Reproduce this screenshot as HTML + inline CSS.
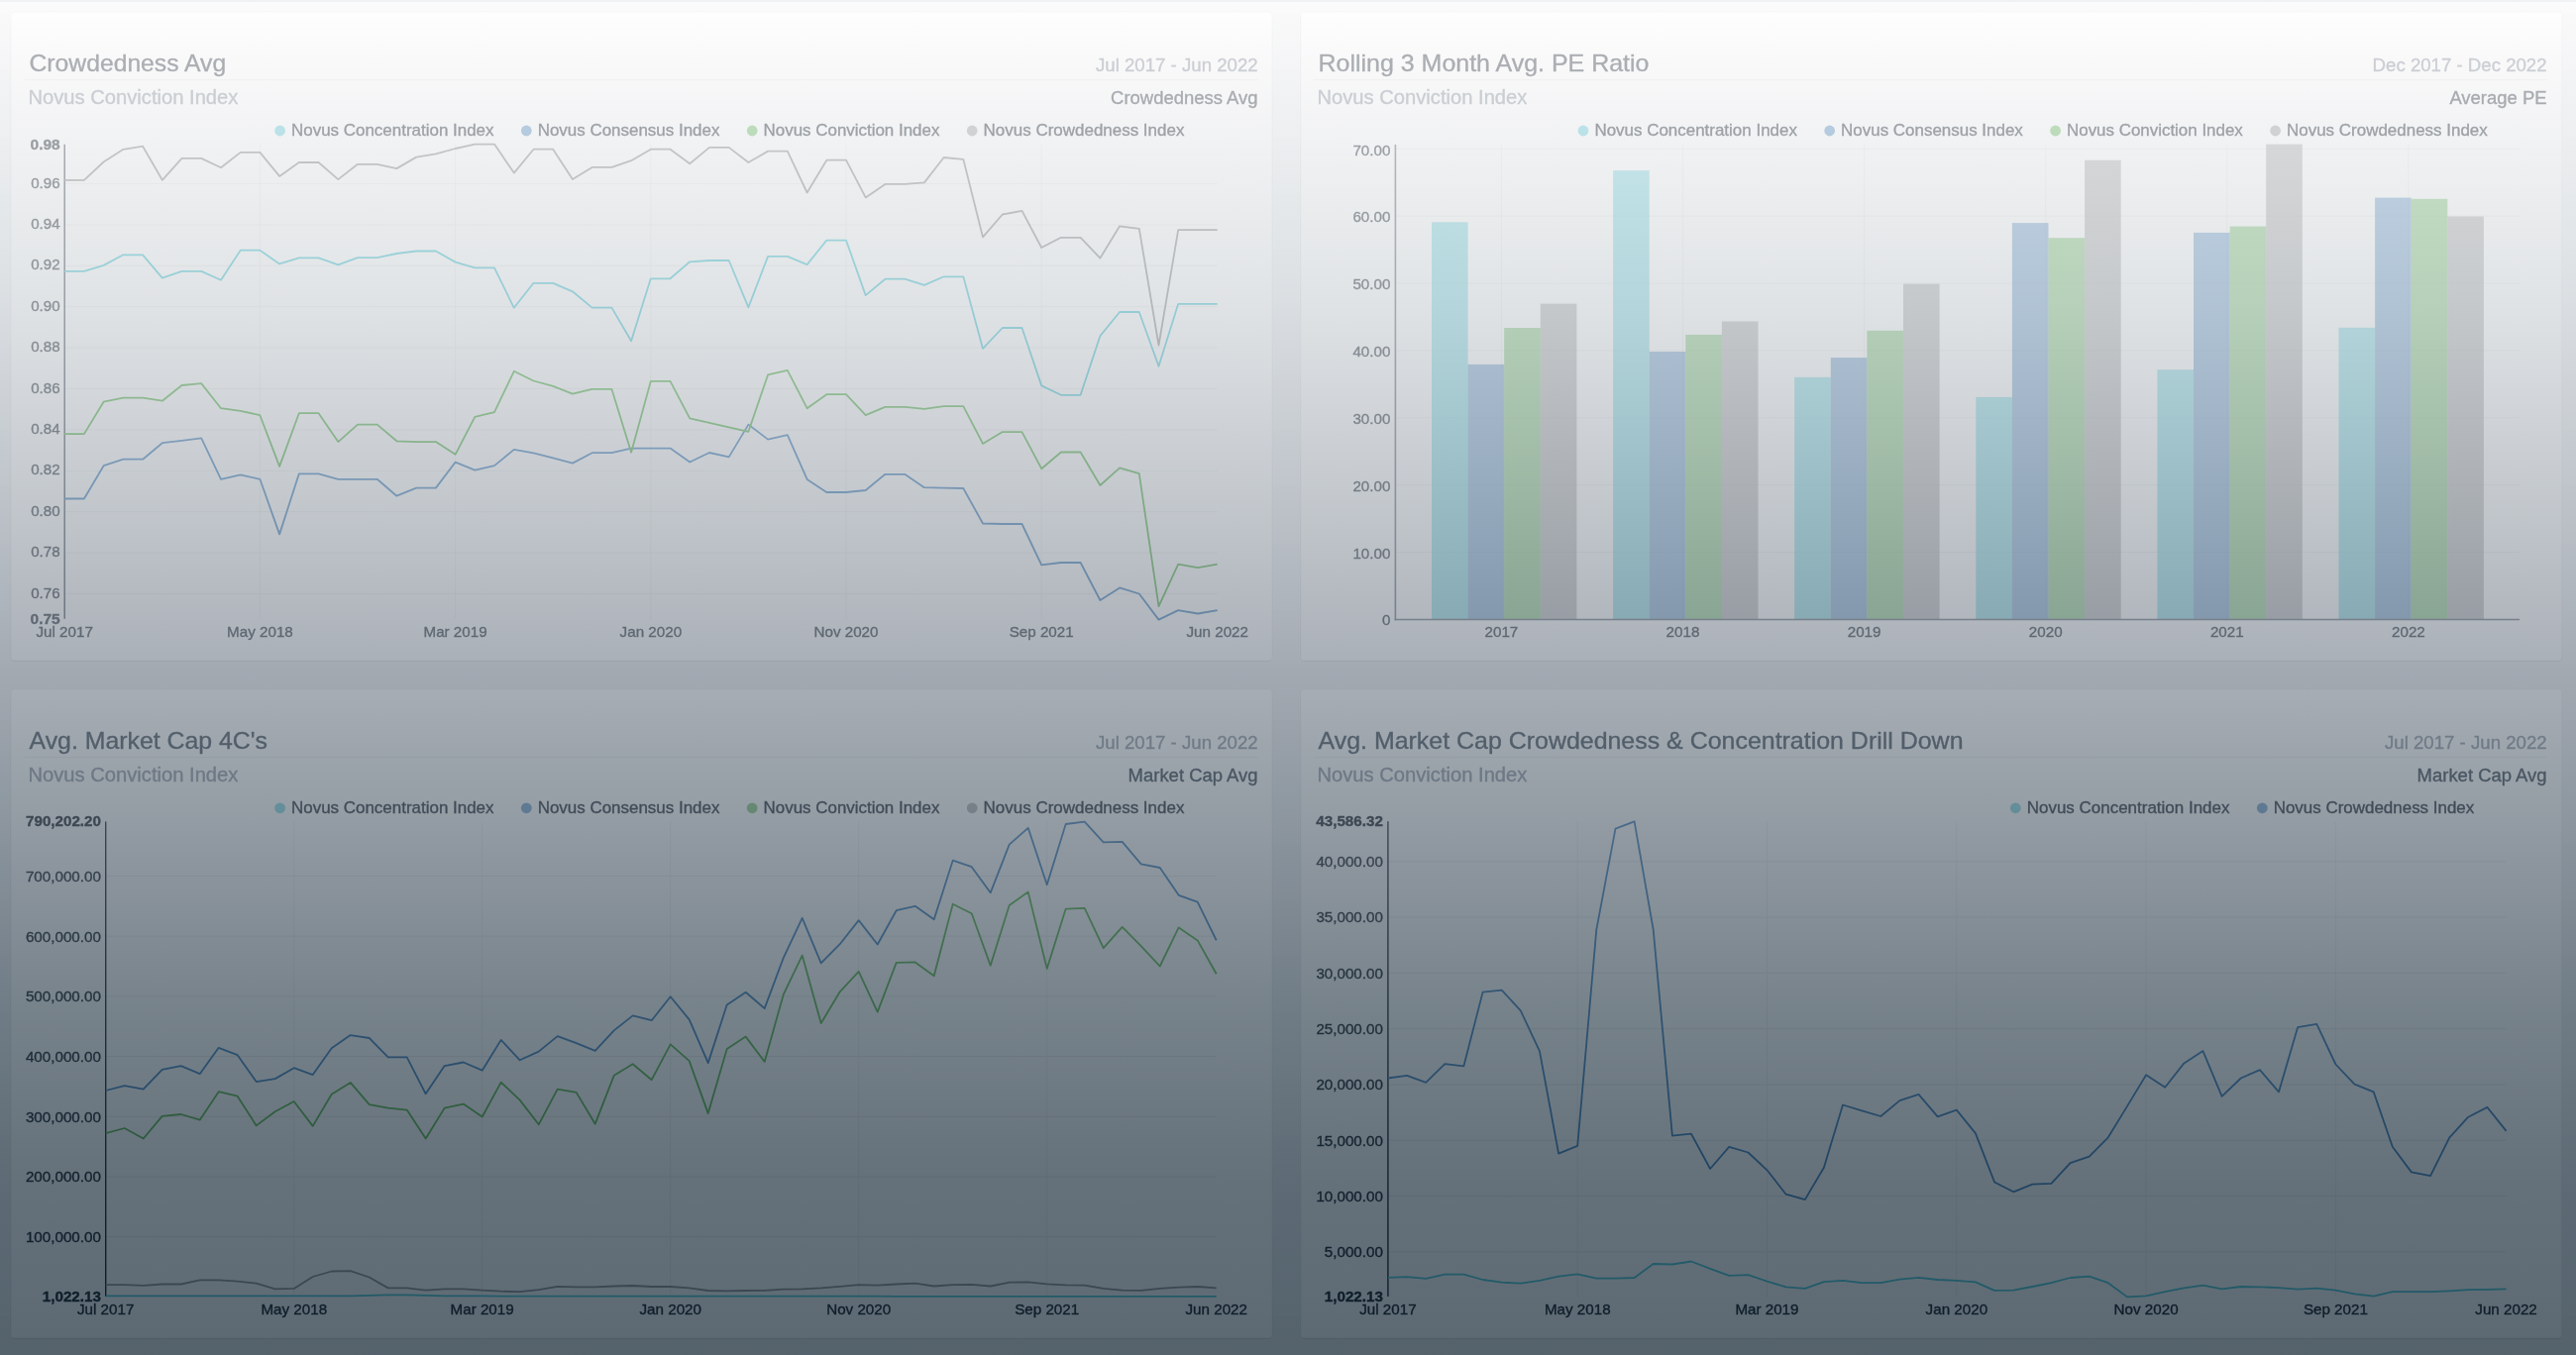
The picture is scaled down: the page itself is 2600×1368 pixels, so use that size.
<!DOCTYPE html>
<html><head><meta charset="utf-8"><title>Dashboard</title>
<style>html,body{margin:0;padding:0;background:#eff1f3;}body{width:2600px;height:1368px;overflow:hidden;font-family:"Liberation Sans",sans-serif;}svg{display:block;position:absolute;left:0;top:0;will-change:transform}#bg{position:absolute;left:0;top:0;width:2600px;height:1368px;background:linear-gradient(to bottom,#f5f7f8,#e9ecef)}</style>
</head><body>
<div id="bg"></div>
<svg width="2600" height="1368" viewBox="0 0 2600 1368" font-family="Liberation Sans, sans-serif">
<defs><linearGradient id="ov" x1="0" y1="0" x2="0" y2="1368" gradientUnits="userSpaceOnUse">
<stop offset="0.0000" stop-color="rgb(255,255,255)" stop-opacity="0.550"/><stop offset="0.0208" stop-color="rgb(250,250,250)" stop-opacity="0.552"/><stop offset="0.0417" stop-color="rgb(245,245,246)" stop-opacity="0.554"/><stop offset="0.0625" stop-color="rgb(240,241,242)" stop-opacity="0.556"/><stop offset="0.0833" stop-color="rgb(235,236,238)" stop-opacity="0.557"/><stop offset="0.1042" stop-color="rgb(230,232,234)" stop-opacity="0.559"/><stop offset="0.1250" stop-color="rgb(225,227,229)" stop-opacity="0.561"/><stop offset="0.1458" stop-color="rgb(219,223,225)" stop-opacity="0.563"/><stop offset="0.1667" stop-color="rgb(214,218,221)" stop-opacity="0.565"/><stop offset="0.1875" stop-color="rgb(209,214,217)" stop-opacity="0.567"/><stop offset="0.2083" stop-color="rgb(204,209,213)" stop-opacity="0.569"/><stop offset="0.2292" stop-color="rgb(199,204,209)" stop-opacity="0.571"/><stop offset="0.2500" stop-color="rgb(192,198,203)" stop-opacity="0.572"/><stop offset="0.2708" stop-color="rgb(185,191,197)" stop-opacity="0.574"/><stop offset="0.2917" stop-color="rgb(178,185,191)" stop-opacity="0.576"/><stop offset="0.3125" stop-color="rgb(171,178,185)" stop-opacity="0.578"/><stop offset="0.3333" stop-color="rgb(164,171,179)" stop-opacity="0.580"/><stop offset="0.3542" stop-color="rgb(157,165,173)" stop-opacity="0.582"/><stop offset="0.3750" stop-color="rgb(150,158,167)" stop-opacity="0.584"/><stop offset="0.3958" stop-color="rgb(143,152,161)" stop-opacity="0.586"/><stop offset="0.4167" stop-color="rgb(136,145,155)" stop-opacity="0.587"/><stop offset="0.4375" stop-color="rgb(129,138,149)" stop-opacity="0.589"/><stop offset="0.4583" stop-color="rgb(122,132,143)" stop-opacity="0.591"/><stop offset="0.4792" stop-color="rgb(115,125,137)" stop-opacity="0.593"/><stop offset="0.5000" stop-color="rgb(109,119,131)" stop-opacity="0.595"/><stop offset="0.5208" stop-color="rgb(102,114,126)" stop-opacity="0.597"/><stop offset="0.5417" stop-color="rgb(96,108,120)" stop-opacity="0.599"/><stop offset="0.5625" stop-color="rgb(89,102,115)" stop-opacity="0.601"/><stop offset="0.5833" stop-color="rgb(83,97,109)" stop-opacity="0.603"/><stop offset="0.6042" stop-color="rgb(77,91,104)" stop-opacity="0.604"/><stop offset="0.6250" stop-color="rgb(70,85,98)" stop-opacity="0.606"/><stop offset="0.6458" stop-color="rgb(64,79,93)" stop-opacity="0.608"/><stop offset="0.6667" stop-color="rgb(58,74,87)" stop-opacity="0.610"/><stop offset="0.6875" stop-color="rgb(51,68,81)" stop-opacity="0.612"/><stop offset="0.7083" stop-color="rgb(45,62,76)" stop-opacity="0.614"/><stop offset="0.7292" stop-color="rgb(38,57,70)" stop-opacity="0.616"/><stop offset="0.7500" stop-color="rgb(33,52,65)" stop-opacity="0.618"/><stop offset="0.7708" stop-color="rgb(29,48,62)" stop-opacity="0.619"/><stop offset="0.7917" stop-color="rgb(25,44,58)" stop-opacity="0.621"/><stop offset="0.8125" stop-color="rgb(21,40,54)" stop-opacity="0.623"/><stop offset="0.8333" stop-color="rgb(17,36,50)" stop-opacity="0.625"/><stop offset="0.8542" stop-color="rgb(13,32,46)" stop-opacity="0.627"/><stop offset="0.8750" stop-color="rgb(10,29,43)" stop-opacity="0.629"/><stop offset="0.8958" stop-color="rgb(8,28,42)" stop-opacity="0.631"/><stop offset="0.9167" stop-color="rgb(7,26,41)" stop-opacity="0.633"/><stop offset="0.9375" stop-color="rgb(5,25,39)" stop-opacity="0.634"/><stop offset="0.9583" stop-color="rgb(4,24,38)" stop-opacity="0.636"/><stop offset="0.9792" stop-color="rgb(2,22,36)" stop-opacity="0.638"/><stop offset="1.0000" stop-color="rgb(1,21,35)" stop-opacity="0.640"/>
</linearGradient><filter id="idf" x="0" y="0" width="2600" height="1368" filterUnits="userSpaceOnUse" color-interpolation-filters="sRGB"><feOffset dx="0" dy="0"/></filter></defs>
<rect width="2600" height="2" fill="#dfe3e7"/>
<g opacity="0.999">
<rect x="11" y="13" width="1273" height="655" rx="3" fill="rgba(0,0,0,0.06)"/>
<rect x="11" y="12" width="1273" height="655" rx="3" fill="#ffffff" stroke="rgba(0,0,0,0.05)" stroke-width="1"/>
<rect x="1312.8" y="13" width="1273" height="655" rx="3" fill="rgba(0,0,0,0.06)"/>
<rect x="1312.8" y="12" width="1273" height="655" rx="3" fill="#ffffff" stroke="rgba(0,0,0,0.05)" stroke-width="1"/>
<rect x="11" y="697" width="1273" height="655" rx="3" fill="rgba(0,0,0,0.06)"/>
<rect x="11" y="696" width="1273" height="655" rx="3" fill="#ffffff" stroke="rgba(0,0,0,0.05)" stroke-width="1"/>
<rect x="1312.8" y="697" width="1273" height="655" rx="3" fill="rgba(0,0,0,0.06)"/>
<rect x="1312.8" y="696" width="1273" height="655" rx="3" fill="#ffffff" stroke="rgba(0,0,0,0.05)" stroke-width="1"/>
<text x="29.5" y="71.7" font-size="24" fill="#50575f" stroke="#50575f" stroke-width="0.35" textLength="198.7" lengthAdjust="spacingAndGlyphs">Crowdedness Avg</text>
<line x1="24.8" y1="80.7" x2="1269.6" y2="80.7" stroke="#ececec" stroke-width="1"/>
<text x="28.4" y="104.8" font-size="20" fill="#9ea4ad" stroke="#9ea4ad" stroke-width="0.35" textLength="212.0" lengthAdjust="spacingAndGlyphs">Novus Conviction Index</text>
<text x="1106.0" y="71.8" font-size="18" fill="#9aa0aa" stroke="#9aa0aa" stroke-width="0.35" textLength="163.6" lengthAdjust="spacingAndGlyphs">Jul 2017 - Jun 2022</text>
<text x="1121.1" y="104.8" font-size="18" fill="#50575f" stroke="#50575f" stroke-width="0.35" textLength="148.5" lengthAdjust="spacingAndGlyphs">Crowdedness Avg</text>
<circle cx="282.6" cy="132.0" r="5.4" fill="#55cbd9" fill-opacity="0.75"/>
<text x="294.0" y="136.8" font-size="17" fill="#3e464e" stroke="#3e464e" stroke-width="0.35" textLength="204.5" lengthAdjust="spacingAndGlyphs">Novus Concentration Index</text>
<circle cx="531.3" cy="132.0" r="5.4" fill="#4785bf" fill-opacity="0.75"/>
<text x="542.7" y="136.8" font-size="17" fill="#3e464e" stroke="#3e464e" stroke-width="0.35" textLength="183.7" lengthAdjust="spacingAndGlyphs">Novus Consensus Index</text>
<circle cx="759.2" cy="132.0" r="5.4" fill="#5eb853" fill-opacity="0.75"/>
<text x="770.6" y="136.8" font-size="17" fill="#3e464e" stroke="#3e464e" stroke-width="0.35" textLength="177.8" lengthAdjust="spacingAndGlyphs">Novus Conviction Index</text>
<circle cx="981.2" cy="132.0" r="5.4" fill="#999999" fill-opacity="0.75"/>
<text x="992.6" y="136.8" font-size="17" fill="#3e464e" stroke="#3e464e" stroke-width="0.35" textLength="202.8" lengthAdjust="spacingAndGlyphs">Novus Crowdedness Index</text>
<line x1="65.2" y1="185.5" x2="1228.7" y2="185.5" stroke="#f0f0f0" stroke-width="1"/>
<text x="31.2" y="189.5" font-size="15" fill="#3c444c" stroke="#3c444c" stroke-width="0.35" textLength="29.5" lengthAdjust="spacingAndGlyphs">0.96</text>
<line x1="65.2" y1="226.9" x2="1228.7" y2="226.9" stroke="#f0f0f0" stroke-width="1"/>
<text x="31.2" y="230.9" font-size="15" fill="#3c444c" stroke="#3c444c" stroke-width="0.35" textLength="29.5" lengthAdjust="spacingAndGlyphs">0.94</text>
<line x1="65.2" y1="268.3" x2="1228.7" y2="268.3" stroke="#f0f0f0" stroke-width="1"/>
<text x="31.2" y="272.3" font-size="15" fill="#3c444c" stroke="#3c444c" stroke-width="0.35" textLength="29.5" lengthAdjust="spacingAndGlyphs">0.92</text>
<line x1="65.2" y1="309.7" x2="1228.7" y2="309.7" stroke="#f0f0f0" stroke-width="1"/>
<text x="31.2" y="313.7" font-size="15" fill="#3c444c" stroke="#3c444c" stroke-width="0.35" textLength="29.5" lengthAdjust="spacingAndGlyphs">0.90</text>
<line x1="65.2" y1="351.1" x2="1228.7" y2="351.1" stroke="#f0f0f0" stroke-width="1"/>
<text x="31.2" y="355.1" font-size="15" fill="#3c444c" stroke="#3c444c" stroke-width="0.35" textLength="29.5" lengthAdjust="spacingAndGlyphs">0.88</text>
<line x1="65.2" y1="392.5" x2="1228.7" y2="392.5" stroke="#f0f0f0" stroke-width="1"/>
<text x="31.2" y="396.5" font-size="15" fill="#3c444c" stroke="#3c444c" stroke-width="0.35" textLength="29.5" lengthAdjust="spacingAndGlyphs">0.86</text>
<line x1="65.2" y1="433.9" x2="1228.7" y2="433.9" stroke="#f0f0f0" stroke-width="1"/>
<text x="31.2" y="437.9" font-size="15" fill="#3c444c" stroke="#3c444c" stroke-width="0.35" textLength="29.5" lengthAdjust="spacingAndGlyphs">0.84</text>
<line x1="65.2" y1="475.3" x2="1228.7" y2="475.3" stroke="#f0f0f0" stroke-width="1"/>
<text x="31.2" y="479.3" font-size="15" fill="#3c444c" stroke="#3c444c" stroke-width="0.35" textLength="29.5" lengthAdjust="spacingAndGlyphs">0.82</text>
<line x1="65.2" y1="516.7" x2="1228.7" y2="516.7" stroke="#f0f0f0" stroke-width="1"/>
<text x="31.2" y="520.7" font-size="15" fill="#3c444c" stroke="#3c444c" stroke-width="0.35" textLength="29.5" lengthAdjust="spacingAndGlyphs">0.80</text>
<line x1="65.2" y1="558.1" x2="1228.7" y2="558.1" stroke="#f0f0f0" stroke-width="1"/>
<text x="31.2" y="562.1" font-size="15" fill="#3c444c" stroke="#3c444c" stroke-width="0.35" textLength="29.5" lengthAdjust="spacingAndGlyphs">0.78</text>
<line x1="65.2" y1="599.5" x2="1228.7" y2="599.5" stroke="#f0f0f0" stroke-width="1"/>
<text x="31.2" y="603.5" font-size="15" fill="#3c444c" stroke="#3c444c" stroke-width="0.35" textLength="29.5" lengthAdjust="spacingAndGlyphs">0.76</text>
<line x1="262.4" y1="145.5" x2="262.4" y2="624.8" stroke="#f1f1f1" stroke-width="1"/>
<line x1="459.6" y1="145.5" x2="459.6" y2="624.8" stroke="#f1f1f1" stroke-width="1"/>
<line x1="656.8" y1="145.5" x2="656.8" y2="624.8" stroke="#f1f1f1" stroke-width="1"/>
<line x1="854.0" y1="145.5" x2="854.0" y2="624.8" stroke="#f1f1f1" stroke-width="1"/>
<line x1="1051.2" y1="145.5" x2="1051.2" y2="624.8" stroke="#f1f1f1" stroke-width="1"/>
<text x="30.5" y="150.6" font-size="15" fill="#3c444c" font-weight="700" stroke="#3c444c" stroke-width="0.35" textLength="30.2" lengthAdjust="spacingAndGlyphs">0.98</text>
<text x="30.5" y="630.2" font-size="15" fill="#3c444c" font-weight="700" stroke="#3c444c" stroke-width="0.35" textLength="30.2" lengthAdjust="spacingAndGlyphs">0.75</text>
<line x1="65.2" y1="145.8" x2="65.2" y2="624.8" stroke="#48505a" stroke-width="1.4"/>
<text x="36.5" y="643.0" font-size="15" fill="#3c444c" stroke="#3c444c" stroke-width="0.35" textLength="57.4" lengthAdjust="spacingAndGlyphs">Jul 2017</text>
<text x="229.1" y="643.0" font-size="15" fill="#3c444c" stroke="#3c444c" stroke-width="0.35" textLength="66.7" lengthAdjust="spacingAndGlyphs">May 2018</text>
<text x="427.5" y="643.0" font-size="15" fill="#3c444c" stroke="#3c444c" stroke-width="0.35" textLength="64.1" lengthAdjust="spacingAndGlyphs">Mar 2019</text>
<text x="625.6" y="643.0" font-size="15" fill="#3c444c" stroke="#3c444c" stroke-width="0.35" textLength="62.5" lengthAdjust="spacingAndGlyphs">Jan 2020</text>
<text x="821.5" y="643.0" font-size="15" fill="#3c444c" stroke="#3c444c" stroke-width="0.35" textLength="65.0" lengthAdjust="spacingAndGlyphs">Nov 2020</text>
<text x="1018.7" y="643.0" font-size="15" fill="#3c444c" stroke="#3c444c" stroke-width="0.35" textLength="65.0" lengthAdjust="spacingAndGlyphs">Sep 2021</text>
<text x="1197.5" y="643.0" font-size="15" fill="#3c444c" stroke="#3c444c" stroke-width="0.35" textLength="62.5" lengthAdjust="spacingAndGlyphs">Jun 2022</text>
<polyline points="65.2,273.9 84.9,273.9 104.6,267.9 124.4,257.3 144.1,257.3 163.8,280.6 183.5,273.9 203.2,273.9 223.0,282.7 242.7,252.7 262.4,252.7 282.1,266.4 301.8,260.4 321.6,260.4 341.3,267.4 361.0,260.1 380.7,260.1 400.4,256.0 420.2,253.5 439.9,253.5 459.6,264.6 479.3,270.3 499.0,270.3 518.8,310.8 538.5,285.8 558.2,285.8 577.9,294.3 597.6,310.6 617.4,310.6 637.1,344.2 656.8,281.3 676.5,281.3 696.2,264.3 716.0,263.0 735.7,263.0 755.4,310.3 775.1,258.9 794.8,258.9 814.6,267.1 834.3,242.6 854.0,242.6 873.7,298.1 893.4,281.7 913.2,281.7 932.9,287.9 952.6,279.3 972.3,279.3 992.0,351.9 1011.8,331.0 1031.5,331.0 1051.2,389.4 1070.9,398.8 1090.6,398.8 1110.4,339.1 1130.1,315.0 1149.8,315.0 1169.5,369.8 1189.2,306.8 1209.0,306.8 1228.7,306.8" fill="none" stroke="#55cbd9" stroke-width="1.8" stroke-linejoin="round" stroke-linecap="butt"/>
<polyline points="65.2,503.5 84.9,503.5 104.6,470.2 124.4,463.7 144.1,463.7 163.8,447.2 183.5,444.8 203.2,442.3 223.0,483.8 242.7,479.4 262.4,483.8 282.1,539.4 301.8,478.4 321.6,478.4 341.3,483.8 361.0,483.8 380.7,483.8 400.4,500.7 420.2,492.6 439.9,492.6 459.6,466.6 479.3,474.6 499.0,470.1 518.8,453.9 538.5,457.3 558.2,462.4 577.9,467.6 597.6,457.2 617.4,457.2 637.1,452.6 656.8,452.6 676.5,452.6 696.2,466.5 716.0,457.0 735.7,461.4 755.4,428.6 775.1,443.6 794.8,439.1 814.6,483.9 834.3,497.0 854.0,497.0 873.7,495.0 893.4,478.8 913.2,478.8 932.9,492.2 952.6,492.7 972.3,493.0 992.0,528.5 1011.8,529.0 1031.5,529.0 1051.2,570.4 1070.9,568.0 1090.6,568.0 1110.4,606.0 1130.1,593.4 1149.8,599.5 1169.5,625.6 1189.2,616.1 1209.0,619.5 1228.7,616.1" fill="none" stroke="#4785bf" stroke-width="1.8" stroke-linejoin="round" stroke-linecap="butt"/>
<polyline points="65.2,438.1 84.9,438.1 104.6,405.7 124.4,401.6 144.1,401.6 163.8,404.7 183.5,389.0 203.2,387.1 223.0,412.2 242.7,414.8 262.4,419.2 282.1,470.9 301.8,417.2 321.6,417.2 341.3,446.1 361.0,428.6 380.7,428.6 400.4,445.3 420.2,446.1 439.9,446.1 459.6,458.8 479.3,420.8 499.0,416.1 518.8,374.8 538.5,384.5 558.2,389.8 577.9,397.7 597.6,392.8 617.4,392.8 637.1,456.7 656.8,384.9 676.5,384.9 696.2,422.4 716.0,426.9 735.7,431.4 755.4,435.8 775.1,378.4 794.8,373.9 814.6,412.2 834.3,398.2 854.0,398.2 873.7,419.2 893.4,410.9 913.2,410.9 932.9,412.8 952.6,410.1 972.3,410.1 992.0,447.9 1011.8,436.1 1031.5,436.1 1051.2,473.2 1070.9,456.5 1090.6,456.5 1110.4,490.0 1130.1,472.3 1149.8,478.2 1169.5,612.2 1189.2,569.6 1209.0,573.1 1228.7,569.6" fill="none" stroke="#5eb853" stroke-width="1.8" stroke-linejoin="round" stroke-linecap="butt"/>
<polyline points="65.2,181.8 84.9,181.8 104.6,163.5 124.4,150.8 144.1,147.7 163.8,181.8 183.5,159.9 203.2,159.9 223.0,169.2 242.7,153.9 262.4,153.9 282.1,177.9 301.8,164.0 321.6,164.0 341.3,181.1 361.0,165.8 380.7,165.8 400.4,170.1 420.2,158.6 439.9,155.4 459.6,150.0 479.3,145.6 499.0,145.6 518.8,174.6 538.5,150.7 558.2,150.7 577.9,181.1 597.6,168.9 617.4,168.9 637.1,162.2 656.8,150.7 676.5,150.7 696.2,165.2 716.0,148.9 735.7,148.9 755.4,164.0 775.1,152.6 794.8,152.6 814.6,194.5 834.3,161.7 854.0,161.7 873.7,199.4 893.4,185.9 913.2,185.9 932.9,184.4 952.6,159.0 972.3,160.8 992.0,239.4 1011.8,216.5 1031.5,212.9 1051.2,250.0 1070.9,239.8 1090.6,239.8 1110.4,260.6 1130.1,228.3 1149.8,230.9 1169.5,348.6 1189.2,232.2 1209.0,232.2 1228.7,232.2" fill="none" stroke="#999999" stroke-width="1.8" stroke-linejoin="round" stroke-linecap="butt"/>
<text x="1330.5" y="71.7" font-size="24" fill="#50575f" stroke="#50575f" stroke-width="0.35" textLength="334.0" lengthAdjust="spacingAndGlyphs">Rolling 3 Month Avg. PE Ratio</text>
<line x1="1325.8" y1="80.7" x2="2570.6" y2="80.7" stroke="#ececec" stroke-width="1"/>
<text x="1329.4" y="104.8" font-size="20" fill="#9ea4ad" stroke="#9ea4ad" stroke-width="0.35" textLength="212.0" lengthAdjust="spacingAndGlyphs">Novus Conviction Index</text>
<text x="2394.6" y="71.8" font-size="18" fill="#9aa0aa" stroke="#9aa0aa" stroke-width="0.35" textLength="176.0" lengthAdjust="spacingAndGlyphs">Dec 2017 - Dec 2022</text>
<text x="2472.4" y="104.8" font-size="18" fill="#50575f" stroke="#50575f" stroke-width="0.35" textLength="98.2" lengthAdjust="spacingAndGlyphs">Average PE</text>
<circle cx="1598.0" cy="132.0" r="5.4" fill="#55cbd9" fill-opacity="0.75"/>
<text x="1609.4" y="136.8" font-size="17" fill="#3e464e" stroke="#3e464e" stroke-width="0.35" textLength="204.5" lengthAdjust="spacingAndGlyphs">Novus Concentration Index</text>
<circle cx="1846.7" cy="132.0" r="5.4" fill="#4785bf" fill-opacity="0.75"/>
<text x="1858.1" y="136.8" font-size="17" fill="#3e464e" stroke="#3e464e" stroke-width="0.35" textLength="183.7" lengthAdjust="spacingAndGlyphs">Novus Consensus Index</text>
<circle cx="2074.6" cy="132.0" r="5.4" fill="#5eb853" fill-opacity="0.75"/>
<text x="2086.0" y="136.8" font-size="17" fill="#3e464e" stroke="#3e464e" stroke-width="0.35" textLength="177.8" lengthAdjust="spacingAndGlyphs">Novus Conviction Index</text>
<circle cx="2296.6" cy="132.0" r="5.4" fill="#999999" fill-opacity="0.75"/>
<text x="2308.0" y="136.8" font-size="17" fill="#3e464e" stroke="#3e464e" stroke-width="0.35" textLength="202.8" lengthAdjust="spacingAndGlyphs">Novus Crowdedness Index</text>
<line x1="1408.4" y1="557.6" x2="2543.0" y2="557.6" stroke="#f0f0f0" stroke-width="1"/>
<text x="1365.4" y="563.9" font-size="15" fill="#3c444c" stroke="#3c444c" stroke-width="0.35" textLength="38.0" lengthAdjust="spacingAndGlyphs">10.00</text>
<line x1="1408.4" y1="489.7" x2="2543.0" y2="489.7" stroke="#f0f0f0" stroke-width="1"/>
<text x="1365.4" y="496.0" font-size="15" fill="#3c444c" stroke="#3c444c" stroke-width="0.35" textLength="38.0" lengthAdjust="spacingAndGlyphs">20.00</text>
<line x1="1408.4" y1="421.8" x2="2543.0" y2="421.8" stroke="#f0f0f0" stroke-width="1"/>
<text x="1365.4" y="428.1" font-size="15" fill="#3c444c" stroke="#3c444c" stroke-width="0.35" textLength="38.0" lengthAdjust="spacingAndGlyphs">30.00</text>
<line x1="1408.4" y1="353.9" x2="2543.0" y2="353.9" stroke="#f0f0f0" stroke-width="1"/>
<text x="1365.4" y="360.2" font-size="15" fill="#3c444c" stroke="#3c444c" stroke-width="0.35" textLength="38.0" lengthAdjust="spacingAndGlyphs">40.00</text>
<line x1="1408.4" y1="286.0" x2="2543.0" y2="286.0" stroke="#f0f0f0" stroke-width="1"/>
<text x="1365.4" y="292.3" font-size="15" fill="#3c444c" stroke="#3c444c" stroke-width="0.35" textLength="38.0" lengthAdjust="spacingAndGlyphs">50.00</text>
<line x1="1408.4" y1="218.1" x2="2543.0" y2="218.1" stroke="#f0f0f0" stroke-width="1"/>
<text x="1365.4" y="224.4" font-size="15" fill="#3c444c" stroke="#3c444c" stroke-width="0.35" textLength="38.0" lengthAdjust="spacingAndGlyphs">60.00</text>
<line x1="1408.4" y1="150.2" x2="2543.0" y2="150.2" stroke="#f0f0f0" stroke-width="1"/>
<text x="1365.4" y="156.5" font-size="15" fill="#3c444c" stroke="#3c444c" stroke-width="0.35" textLength="38.0" lengthAdjust="spacingAndGlyphs">70.00</text>
<text x="1395.0" y="630.8" font-size="15" fill="#3c444c" stroke="#3c444c" stroke-width="0.35" textLength="8.4" lengthAdjust="spacingAndGlyphs">0</text>
<line x1="1515.4" y1="146.0" x2="1515.4" y2="625.5" stroke="#f1f1f1" stroke-width="1"/>
<line x1="1698.5" y1="146.0" x2="1698.5" y2="625.5" stroke="#f1f1f1" stroke-width="1"/>
<line x1="1881.6" y1="146.0" x2="1881.6" y2="625.5" stroke="#f1f1f1" stroke-width="1"/>
<line x1="2064.7" y1="146.0" x2="2064.7" y2="625.5" stroke="#f1f1f1" stroke-width="1"/>
<line x1="2247.8" y1="146.0" x2="2247.8" y2="625.5" stroke="#f1f1f1" stroke-width="1"/>
<line x1="2430.9" y1="146.0" x2="2430.9" y2="625.5" stroke="#f1f1f1" stroke-width="1"/>
<rect x="1445.0" y="224.3" width="36.6" height="401.2" fill="#55cbd9" fill-opacity="0.6"/>
<rect x="1481.6" y="367.9" width="36.6" height="257.6" fill="#4785bf" fill-opacity="0.6"/>
<rect x="1518.2" y="331.0" width="36.6" height="294.5" fill="#5eb853" fill-opacity="0.6"/>
<rect x="1554.8" y="306.6" width="36.6" height="318.9" fill="#999999" fill-opacity="0.6"/>
<rect x="1628.1" y="172.1" width="36.6" height="453.4" fill="#55cbd9" fill-opacity="0.6"/>
<rect x="1664.7" y="355.0" width="36.6" height="270.5" fill="#4785bf" fill-opacity="0.6"/>
<rect x="1701.3" y="337.9" width="36.6" height="287.6" fill="#5eb853" fill-opacity="0.6"/>
<rect x="1737.9" y="324.5" width="36.6" height="301.0" fill="#999999" fill-opacity="0.6"/>
<rect x="1811.2" y="380.8" width="36.6" height="244.7" fill="#55cbd9" fill-opacity="0.6"/>
<rect x="1847.8" y="361.1" width="36.6" height="264.4" fill="#4785bf" fill-opacity="0.6"/>
<rect x="1884.4" y="333.8" width="36.6" height="291.7" fill="#5eb853" fill-opacity="0.6"/>
<rect x="1921.0" y="286.6" width="36.6" height="338.9" fill="#999999" fill-opacity="0.6"/>
<rect x="1994.3" y="400.9" width="36.6" height="224.6" fill="#55cbd9" fill-opacity="0.6"/>
<rect x="2030.9" y="225.1" width="36.6" height="400.4" fill="#4785bf" fill-opacity="0.6"/>
<rect x="2067.5" y="240.2" width="36.6" height="385.3" fill="#5eb853" fill-opacity="0.6"/>
<rect x="2104.1" y="161.7" width="36.6" height="463.8" fill="#999999" fill-opacity="0.6"/>
<rect x="2177.4" y="373.2" width="36.6" height="252.3" fill="#55cbd9" fill-opacity="0.6"/>
<rect x="2214.0" y="234.9" width="36.6" height="390.6" fill="#4785bf" fill-opacity="0.6"/>
<rect x="2250.6" y="228.6" width="36.6" height="396.9" fill="#5eb853" fill-opacity="0.6"/>
<rect x="2287.2" y="145.6" width="36.6" height="479.9" fill="#999999" fill-opacity="0.6"/>
<rect x="2360.5" y="330.8" width="36.6" height="294.7" fill="#55cbd9" fill-opacity="0.6"/>
<rect x="2397.1" y="199.6" width="36.6" height="425.9" fill="#4785bf" fill-opacity="0.6"/>
<rect x="2433.7" y="200.8" width="36.6" height="424.7" fill="#5eb853" fill-opacity="0.6"/>
<rect x="2470.3" y="218.5" width="36.6" height="407.0" fill="#999999" fill-opacity="0.6"/>
<line x1="1408.4" y1="146.0" x2="1408.4" y2="626.3" stroke="#727a83" stroke-width="1.6"/>
<line x1="1407.6" y1="625.5" x2="2543.0" y2="625.5" stroke="#727a83" stroke-width="1.6"/>
<text x="1498.5" y="643.1" font-size="15" fill="#3c444c" stroke="#3c444c" stroke-width="0.35" textLength="33.8" lengthAdjust="spacingAndGlyphs">2017</text>
<text x="1681.6" y="643.1" font-size="15" fill="#3c444c" stroke="#3c444c" stroke-width="0.35" textLength="33.8" lengthAdjust="spacingAndGlyphs">2018</text>
<text x="1864.7" y="643.1" font-size="15" fill="#3c444c" stroke="#3c444c" stroke-width="0.35" textLength="33.8" lengthAdjust="spacingAndGlyphs">2019</text>
<text x="2047.8" y="643.1" font-size="15" fill="#3c444c" stroke="#3c444c" stroke-width="0.35" textLength="33.8" lengthAdjust="spacingAndGlyphs">2020</text>
<text x="2230.9" y="643.1" font-size="15" fill="#3c444c" stroke="#3c444c" stroke-width="0.35" textLength="33.8" lengthAdjust="spacingAndGlyphs">2021</text>
<text x="2414.0" y="643.1" font-size="15" fill="#3c444c" stroke="#3c444c" stroke-width="0.35" textLength="33.8" lengthAdjust="spacingAndGlyphs">2022</text>
<text x="29.5" y="755.7" font-size="24" fill="#3f4d59" stroke="#3f4d59" stroke-width="0.35" textLength="240.5" lengthAdjust="spacingAndGlyphs">Avg. Market Cap 4C's</text>
<line x1="24.8" y1="764.7" x2="1269.6" y2="764.7" stroke="#ececec" stroke-width="1"/>
<text x="28.4" y="788.8" font-size="20" fill="#8e98a4" stroke="#8e98a4" stroke-width="0.35" textLength="212.0" lengthAdjust="spacingAndGlyphs">Novus Conviction Index</text>
<text x="1106.0" y="755.8" font-size="18" fill="#8a94a0" stroke="#8a94a0" stroke-width="0.35" textLength="163.6" lengthAdjust="spacingAndGlyphs">Jul 2017 - Jun 2022</text>
<text x="1138.6" y="788.8" font-size="18" fill="#36434f" stroke="#36434f" stroke-width="0.35" textLength="131.0" lengthAdjust="spacingAndGlyphs">Market Cap Avg</text>
<circle cx="282.6" cy="815.8" r="5.4" fill="#55cbd9" fill-opacity="0.75"/>
<text x="294.0" y="820.6" font-size="17" fill="#27303a" stroke="#27303a" stroke-width="0.35" textLength="204.5" lengthAdjust="spacingAndGlyphs">Novus Concentration Index</text>
<circle cx="531.3" cy="815.8" r="5.4" fill="#4785bf" fill-opacity="0.75"/>
<text x="542.7" y="820.6" font-size="17" fill="#27303a" stroke="#27303a" stroke-width="0.35" textLength="183.7" lengthAdjust="spacingAndGlyphs">Novus Consensus Index</text>
<circle cx="759.2" cy="815.8" r="5.4" fill="#5eb853" fill-opacity="0.75"/>
<text x="770.6" y="820.6" font-size="17" fill="#27303a" stroke="#27303a" stroke-width="0.35" textLength="177.8" lengthAdjust="spacingAndGlyphs">Novus Conviction Index</text>
<circle cx="981.2" cy="815.8" r="5.4" fill="#999999" fill-opacity="0.75"/>
<text x="992.6" y="820.6" font-size="17" fill="#27303a" stroke="#27303a" stroke-width="0.35" textLength="202.8" lengthAdjust="spacingAndGlyphs">Novus Crowdedness Index</text>
<line x1="106.7" y1="1248.7" x2="1227.7" y2="1248.7" stroke="#ececec" stroke-width="1"/>
<text x="25.9" y="1254.0" font-size="15" fill="#222a33" stroke="#222a33" stroke-width="0.35" textLength="76.0" lengthAdjust="spacingAndGlyphs">100,000.00</text>
<line x1="106.7" y1="1188.0" x2="1227.7" y2="1188.0" stroke="#ececec" stroke-width="1"/>
<text x="25.9" y="1193.3" font-size="15" fill="#222a33" stroke="#222a33" stroke-width="0.35" textLength="76.0" lengthAdjust="spacingAndGlyphs">200,000.00</text>
<line x1="106.7" y1="1127.3" x2="1227.7" y2="1127.3" stroke="#ececec" stroke-width="1"/>
<text x="25.9" y="1132.6" font-size="15" fill="#222a33" stroke="#222a33" stroke-width="0.35" textLength="76.0" lengthAdjust="spacingAndGlyphs">300,000.00</text>
<line x1="106.7" y1="1066.6" x2="1227.7" y2="1066.6" stroke="#ececec" stroke-width="1"/>
<text x="25.9" y="1071.9" font-size="15" fill="#222a33" stroke="#222a33" stroke-width="0.35" textLength="76.0" lengthAdjust="spacingAndGlyphs">400,000.00</text>
<line x1="106.7" y1="1005.9" x2="1227.7" y2="1005.9" stroke="#ececec" stroke-width="1"/>
<text x="25.9" y="1011.2" font-size="15" fill="#222a33" stroke="#222a33" stroke-width="0.35" textLength="76.0" lengthAdjust="spacingAndGlyphs">500,000.00</text>
<line x1="106.7" y1="945.2" x2="1227.7" y2="945.2" stroke="#ececec" stroke-width="1"/>
<text x="25.9" y="950.5" font-size="15" fill="#222a33" stroke="#222a33" stroke-width="0.35" textLength="76.0" lengthAdjust="spacingAndGlyphs">600,000.00</text>
<line x1="106.7" y1="884.5" x2="1227.7" y2="884.5" stroke="#ececec" stroke-width="1"/>
<text x="25.9" y="889.8" font-size="15" fill="#222a33" stroke="#222a33" stroke-width="0.35" textLength="76.0" lengthAdjust="spacingAndGlyphs">700,000.00</text>
<line x1="296.7" y1="829.4" x2="296.7" y2="1309.0" stroke="#f1f1f1" stroke-width="1"/>
<line x1="486.7" y1="829.4" x2="486.7" y2="1309.0" stroke="#f1f1f1" stroke-width="1"/>
<line x1="676.7" y1="829.4" x2="676.7" y2="1309.0" stroke="#f1f1f1" stroke-width="1"/>
<line x1="866.7" y1="829.4" x2="866.7" y2="1309.0" stroke="#f1f1f1" stroke-width="1"/>
<line x1="1056.7" y1="829.4" x2="1056.7" y2="1309.0" stroke="#f1f1f1" stroke-width="1"/>
<text x="26.1" y="834.3" font-size="15" fill="#222a33" font-weight="700" stroke="#222a33" stroke-width="0.35" textLength="75.8" lengthAdjust="spacingAndGlyphs">790,202.20</text>
<text x="42.8" y="1314.2" font-size="15" fill="#222a33" font-weight="700" stroke="#222a33" stroke-width="0.35" textLength="59.1" lengthAdjust="spacingAndGlyphs">1,022.13</text>
<line x1="106.7" y1="829.4" x2="106.7" y2="1309.0" stroke="#20262e" stroke-width="1.4"/>
<text x="78.0" y="1326.5" font-size="15" fill="#222a33" stroke="#222a33" stroke-width="0.35" textLength="57.4" lengthAdjust="spacingAndGlyphs">Jul 2017</text>
<text x="263.4" y="1326.5" font-size="15" fill="#222a33" stroke="#222a33" stroke-width="0.35" textLength="66.7" lengthAdjust="spacingAndGlyphs">May 2018</text>
<text x="454.6" y="1326.5" font-size="15" fill="#222a33" stroke="#222a33" stroke-width="0.35" textLength="64.1" lengthAdjust="spacingAndGlyphs">Mar 2019</text>
<text x="645.5" y="1326.5" font-size="15" fill="#222a33" stroke="#222a33" stroke-width="0.35" textLength="62.5" lengthAdjust="spacingAndGlyphs">Jan 2020</text>
<text x="834.2" y="1326.5" font-size="15" fill="#222a33" stroke="#222a33" stroke-width="0.35" textLength="65.0" lengthAdjust="spacingAndGlyphs">Nov 2020</text>
<text x="1024.2" y="1326.5" font-size="15" fill="#222a33" stroke="#222a33" stroke-width="0.35" textLength="65.0" lengthAdjust="spacingAndGlyphs">Sep 2021</text>
<text x="1196.5" y="1326.5" font-size="15" fill="#222a33" stroke="#222a33" stroke-width="0.35" textLength="62.5" lengthAdjust="spacingAndGlyphs">Jun 2022</text>
<polyline points="106.7,1308.3 125.7,1308.3 144.7,1308.3 163.7,1308.3 182.7,1308.3 201.7,1308.3 220.7,1308.3 239.7,1308.3 258.7,1308.3 277.7,1308.3 296.7,1308.3 315.7,1308.3 334.7,1308.3 353.7,1308.3 372.7,1307.8 391.7,1307.4 410.7,1307.4 429.7,1307.8 448.7,1308.3 467.7,1308.3 486.7,1308.3 505.7,1308.6 524.7,1308.6 543.7,1308.6 562.7,1308.6 581.7,1308.6 600.7,1308.6 619.7,1308.6 638.7,1308.6 657.7,1308.6 676.7,1308.6 695.7,1308.6 714.7,1308.6 733.7,1308.6 752.7,1308.6 771.7,1308.6 790.7,1308.6 809.7,1308.6 828.7,1308.6 847.7,1308.6 866.7,1308.6 885.7,1308.6 904.7,1308.9 923.7,1308.9 942.7,1308.9 961.7,1308.9 980.7,1308.9 999.7,1308.9 1018.7,1308.9 1037.7,1308.9 1056.7,1308.9 1075.7,1308.9 1094.7,1308.9 1113.7,1308.9 1132.7,1308.9 1151.7,1308.9 1170.7,1308.9 1189.7,1308.9 1208.7,1308.9 1227.7,1308.9" fill="none" stroke="#55cbd9" stroke-width="1.8" stroke-linejoin="round" stroke-linecap="butt"/>
<polyline points="106.7,1101.0 125.7,1096.1 144.7,1099.7 163.7,1079.8 182.7,1076.1 201.7,1084.2 220.7,1057.8 239.7,1065.2 258.7,1092.1 277.7,1089.1 296.7,1078.2 315.7,1085.1 334.7,1058.3 353.7,1045.1 372.7,1048.0 391.7,1067.3 410.7,1067.3 429.7,1104.3 448.7,1076.1 467.7,1072.5 486.7,1080.7 505.7,1049.9 524.7,1070.3 543.7,1061.6 562.7,1046.1 581.7,1053.2 600.7,1060.8 619.7,1040.4 638.7,1025.4 657.7,1030.2 676.7,1006.2 695.7,1029.4 714.7,1073.1 733.7,1014.4 752.7,1001.8 771.7,1018.1 790.7,967.1 809.7,926.8 828.7,972.3 847.7,953.2 866.7,929.1 885.7,953.5 904.7,919.2 923.7,914.8 942.7,928.2 961.7,868.7 980.7,875.2 999.7,901.3 1018.7,852.7 1037.7,835.8 1056.7,893.2 1075.7,832.0 1094.7,829.6 1113.7,850.3 1132.7,849.9 1151.7,872.3 1170.7,876.0 1189.7,903.8 1208.7,910.6 1227.7,949.4" fill="none" stroke="#4785bf" stroke-width="1.8" stroke-linejoin="round" stroke-linecap="butt"/>
<polyline points="106.7,1144.2 125.7,1139.0 144.7,1149.5 163.7,1126.8 182.7,1125.0 201.7,1130.7 220.7,1102.2 239.7,1106.7 258.7,1136.4 277.7,1122.2 296.7,1112.0 315.7,1136.9 334.7,1104.8 353.7,1092.9 372.7,1115.2 391.7,1118.6 410.7,1120.6 429.7,1149.5 448.7,1118.6 467.7,1114.6 486.7,1127.5 505.7,1092.6 524.7,1110.6 543.7,1135.3 562.7,1099.6 581.7,1102.9 600.7,1134.7 619.7,1085.8 638.7,1074.2 657.7,1090.2 676.7,1054.3 695.7,1071.1 714.7,1124.1 733.7,1058.9 752.7,1046.6 771.7,1071.9 790.7,1004.2 809.7,964.6 828.7,1033.1 847.7,1001.3 866.7,980.9 885.7,1021.7 904.7,971.9 923.7,971.4 942.7,985.3 961.7,912.7 980.7,922.2 999.7,974.7 1018.7,913.9 1037.7,900.5 1056.7,977.9 1075.7,917.6 1094.7,916.8 1113.7,957.2 1132.7,935.9 1151.7,955.1 1170.7,975.5 1189.7,936.4 1208.7,949.4 1227.7,983.3" fill="none" stroke="#5eb853" stroke-width="1.8" stroke-linejoin="round" stroke-linecap="butt"/>
<polyline points="106.7,1297.2 125.7,1297.2 144.7,1297.8 163.7,1296.5 182.7,1296.5 201.7,1292.4 220.7,1292.4 239.7,1293.6 258.7,1295.7 277.7,1301.3 296.7,1300.9 315.7,1289.0 334.7,1283.5 353.7,1283.2 372.7,1289.5 391.7,1300.4 410.7,1300.4 429.7,1302.6 448.7,1301.3 467.7,1301.3 486.7,1302.6 505.7,1303.7 524.7,1304.2 543.7,1302.2 562.7,1298.8 581.7,1299.3 600.7,1299.3 619.7,1298.5 638.7,1298.0 657.7,1299.0 676.7,1299.0 695.7,1300.4 714.7,1303.0 733.7,1303.4 752.7,1303.0 771.7,1302.9 790.7,1301.7 809.7,1301.3 828.7,1300.4 847.7,1298.8 866.7,1297.2 885.7,1297.7 904.7,1296.5 923.7,1295.7 942.7,1298.5 961.7,1297.2 980.7,1296.9 999.7,1298.5 1018.7,1294.7 1037.7,1294.4 1056.7,1296.4 1075.7,1297.3 1094.7,1297.7 1113.7,1300.9 1132.7,1302.6 1151.7,1302.9 1170.7,1300.9 1189.7,1299.6 1208.7,1299.0 1227.7,1300.4" fill="none" stroke="#999999" stroke-width="1.8" stroke-linejoin="round" stroke-linecap="butt"/>
<text x="1330.5" y="755.7" font-size="24" fill="#3f4d59" stroke="#3f4d59" stroke-width="0.35" textLength="651.0" lengthAdjust="spacingAndGlyphs">Avg. Market Cap Crowdedness &amp; Concentration Drill Down</text>
<line x1="1325.8" y1="764.7" x2="2570.6" y2="764.7" stroke="#ececec" stroke-width="1"/>
<text x="1329.4" y="788.8" font-size="20" fill="#8e98a4" stroke="#8e98a4" stroke-width="0.35" textLength="212.0" lengthAdjust="spacingAndGlyphs">Novus Conviction Index</text>
<text x="2407.0" y="755.8" font-size="18" fill="#8a94a0" stroke="#8a94a0" stroke-width="0.35" textLength="163.6" lengthAdjust="spacingAndGlyphs">Jul 2017 - Jun 2022</text>
<text x="2439.6" y="788.8" font-size="18" fill="#36434f" stroke="#36434f" stroke-width="0.35" textLength="131.0" lengthAdjust="spacingAndGlyphs">Market Cap Avg</text>
<circle cx="2034.3" cy="815.8" r="5.4" fill="#55cbd9" fill-opacity="0.75"/>
<text x="2045.7" y="820.6" font-size="17" fill="#27303a" stroke="#27303a" stroke-width="0.35" textLength="204.8" lengthAdjust="spacingAndGlyphs">Novus Concentration Index</text>
<circle cx="2283.3" cy="815.8" r="5.4" fill="#4785bf" fill-opacity="0.75"/>
<text x="2294.7" y="820.6" font-size="17" fill="#27303a" stroke="#27303a" stroke-width="0.35" textLength="202.6" lengthAdjust="spacingAndGlyphs">Novus Crowdedness Index</text>
<line x1="1400.9" y1="1263.9" x2="2529.6" y2="1263.9" stroke="#ececec" stroke-width="1"/>
<text x="1336.8" y="1269.2" font-size="15" fill="#222a33" stroke="#222a33" stroke-width="0.35" textLength="59.1" lengthAdjust="spacingAndGlyphs">5,000.00</text>
<line x1="1400.9" y1="1207.6" x2="2529.6" y2="1207.6" stroke="#ececec" stroke-width="1"/>
<text x="1328.4" y="1212.9" font-size="15" fill="#222a33" stroke="#222a33" stroke-width="0.35" textLength="67.5" lengthAdjust="spacingAndGlyphs">10,000.00</text>
<line x1="1400.9" y1="1151.3" x2="2529.6" y2="1151.3" stroke="#ececec" stroke-width="1"/>
<text x="1328.4" y="1156.6" font-size="15" fill="#222a33" stroke="#222a33" stroke-width="0.35" textLength="67.5" lengthAdjust="spacingAndGlyphs">15,000.00</text>
<line x1="1400.9" y1="1095.0" x2="2529.6" y2="1095.0" stroke="#ececec" stroke-width="1"/>
<text x="1328.4" y="1100.3" font-size="15" fill="#222a33" stroke="#222a33" stroke-width="0.35" textLength="67.5" lengthAdjust="spacingAndGlyphs">20,000.00</text>
<line x1="1400.9" y1="1038.7" x2="2529.6" y2="1038.7" stroke="#ececec" stroke-width="1"/>
<text x="1328.4" y="1044.0" font-size="15" fill="#222a33" stroke="#222a33" stroke-width="0.35" textLength="67.5" lengthAdjust="spacingAndGlyphs">25,000.00</text>
<line x1="1400.9" y1="982.4" x2="2529.6" y2="982.4" stroke="#ececec" stroke-width="1"/>
<text x="1328.4" y="987.7" font-size="15" fill="#222a33" stroke="#222a33" stroke-width="0.35" textLength="67.5" lengthAdjust="spacingAndGlyphs">30,000.00</text>
<line x1="1400.9" y1="926.1" x2="2529.6" y2="926.1" stroke="#ececec" stroke-width="1"/>
<text x="1328.4" y="931.4" font-size="15" fill="#222a33" stroke="#222a33" stroke-width="0.35" textLength="67.5" lengthAdjust="spacingAndGlyphs">35,000.00</text>
<line x1="1400.9" y1="869.8" x2="2529.6" y2="869.8" stroke="#ececec" stroke-width="1"/>
<text x="1328.4" y="875.1" font-size="15" fill="#222a33" stroke="#222a33" stroke-width="0.35" textLength="67.5" lengthAdjust="spacingAndGlyphs">40,000.00</text>
<line x1="1592.2" y1="829.3" x2="1592.2" y2="1309.0" stroke="#f1f1f1" stroke-width="1"/>
<line x1="1783.5" y1="829.3" x2="1783.5" y2="1309.0" stroke="#f1f1f1" stroke-width="1"/>
<line x1="1974.8" y1="829.3" x2="1974.8" y2="1309.0" stroke="#f1f1f1" stroke-width="1"/>
<line x1="2166.1" y1="829.3" x2="2166.1" y2="1309.0" stroke="#f1f1f1" stroke-width="1"/>
<line x1="2357.4" y1="829.3" x2="2357.4" y2="1309.0" stroke="#f1f1f1" stroke-width="1"/>
<text x="1328.3" y="834.2" font-size="15" fill="#222a33" font-weight="700" stroke="#222a33" stroke-width="0.35" textLength="67.6" lengthAdjust="spacingAndGlyphs">43,586.32</text>
<text x="1336.8" y="1314.2" font-size="15" fill="#222a33" font-weight="700" stroke="#222a33" stroke-width="0.35" textLength="59.1" lengthAdjust="spacingAndGlyphs">1,022.13</text>
<line x1="1400.9" y1="829.3" x2="1400.9" y2="1309.0" stroke="#20262e" stroke-width="1.4"/>
<text x="1372.2" y="1326.5" font-size="15" fill="#222a33" stroke="#222a33" stroke-width="0.35" textLength="57.4" lengthAdjust="spacingAndGlyphs">Jul 2017</text>
<text x="1558.9" y="1326.5" font-size="15" fill="#222a33" stroke="#222a33" stroke-width="0.35" textLength="66.7" lengthAdjust="spacingAndGlyphs">May 2018</text>
<text x="1751.4" y="1326.5" font-size="15" fill="#222a33" stroke="#222a33" stroke-width="0.35" textLength="64.1" lengthAdjust="spacingAndGlyphs">Mar 2019</text>
<text x="1943.6" y="1326.5" font-size="15" fill="#222a33" stroke="#222a33" stroke-width="0.35" textLength="62.5" lengthAdjust="spacingAndGlyphs">Jan 2020</text>
<text x="2133.6" y="1326.5" font-size="15" fill="#222a33" stroke="#222a33" stroke-width="0.35" textLength="65.0" lengthAdjust="spacingAndGlyphs">Nov 2020</text>
<text x="2324.9" y="1326.5" font-size="15" fill="#222a33" stroke="#222a33" stroke-width="0.35" textLength="65.0" lengthAdjust="spacingAndGlyphs">Sep 2021</text>
<text x="2498.3" y="1326.5" font-size="15" fill="#222a33" stroke="#222a33" stroke-width="0.35" textLength="62.5" lengthAdjust="spacingAndGlyphs">Jun 2022</text>
<polyline points="1400.9,1289.8 1420.0,1289.2 1439.2,1290.8 1458.3,1286.7 1477.4,1286.7 1496.6,1292.0 1515.7,1294.7 1534.8,1295.7 1553.9,1292.8 1573.1,1288.7 1592.2,1286.3 1611.3,1290.7 1630.5,1290.7 1649.6,1290.0 1668.7,1276.0 1687.9,1276.5 1707.0,1273.5 1726.1,1280.9 1745.2,1287.9 1764.4,1287.1 1783.5,1293.6 1802.6,1299.3 1821.8,1300.9 1840.9,1294.1 1860.0,1292.8 1879.2,1295.2 1898.3,1295.2 1917.4,1291.6 1936.5,1289.8 1955.7,1292.0 1974.8,1292.8 1993.9,1294.4 2013.1,1302.9 2032.2,1302.6 2051.3,1299.0 2070.4,1295.2 2089.6,1290.0 2108.7,1288.7 2127.8,1295.2 2147.0,1309.4 2166.1,1308.3 2185.2,1304.2 2204.4,1300.4 2223.5,1297.7 2242.6,1301.3 2261.8,1299.0 2280.9,1299.3 2300.0,1300.1 2319.1,1301.7 2338.3,1300.6 2357.4,1302.6 2376.5,1306.3 2395.7,1308.6 2414.8,1304.2 2433.9,1304.2 2453.1,1304.2 2472.2,1303.4 2491.3,1302.2 2510.4,1301.9 2529.6,1301.4" fill="none" stroke="#55cbd9" stroke-width="1.8" stroke-linejoin="round" stroke-linecap="butt"/>
<polyline points="1400.9,1088.5 1420.0,1085.9 1439.2,1092.9 1458.3,1074.1 1477.4,1076.3 1496.6,1001.6 1515.7,999.6 1534.8,1020.3 1553.9,1061.1 1573.1,1164.6 1592.2,1156.8 1611.3,938.6 1630.5,836.7 1649.6,829.3 1668.7,938.6 1687.9,1146.7 1707.0,1144.7 1726.1,1180.0 1745.2,1157.8 1764.4,1163.5 1783.5,1181.3 1802.6,1205.7 1821.8,1211.1 1840.9,1178.8 1860.0,1115.5 1879.2,1121.3 1898.3,1127.0 1917.4,1111.1 1936.5,1104.9 1955.7,1127.4 1974.8,1120.6 1993.9,1144.1 2013.1,1193.5 2032.2,1203.3 2051.3,1195.6 2070.4,1194.8 2089.6,1174.2 2108.7,1167.7 2127.8,1148.3 2147.0,1116.9 2166.1,1085.3 2185.2,1097.8 2204.4,1073.4 2223.5,1061.1 2242.6,1106.8 2261.8,1088.5 2280.9,1080.2 2300.0,1102.4 2319.1,1037.2 2338.3,1033.9 2357.4,1074.5 2376.5,1094.6 2395.7,1102.4 2414.8,1157.8 2433.9,1183.4 2453.1,1187.2 2472.2,1148.7 2491.3,1127.7 2510.4,1117.9 2529.6,1141.9" fill="none" stroke="#4785bf" stroke-width="1.8" stroke-linejoin="round" stroke-linecap="butt"/>
</g>
<rect width="2600" height="1368" fill="url(#ov)"/>
</svg>
</body></html>
